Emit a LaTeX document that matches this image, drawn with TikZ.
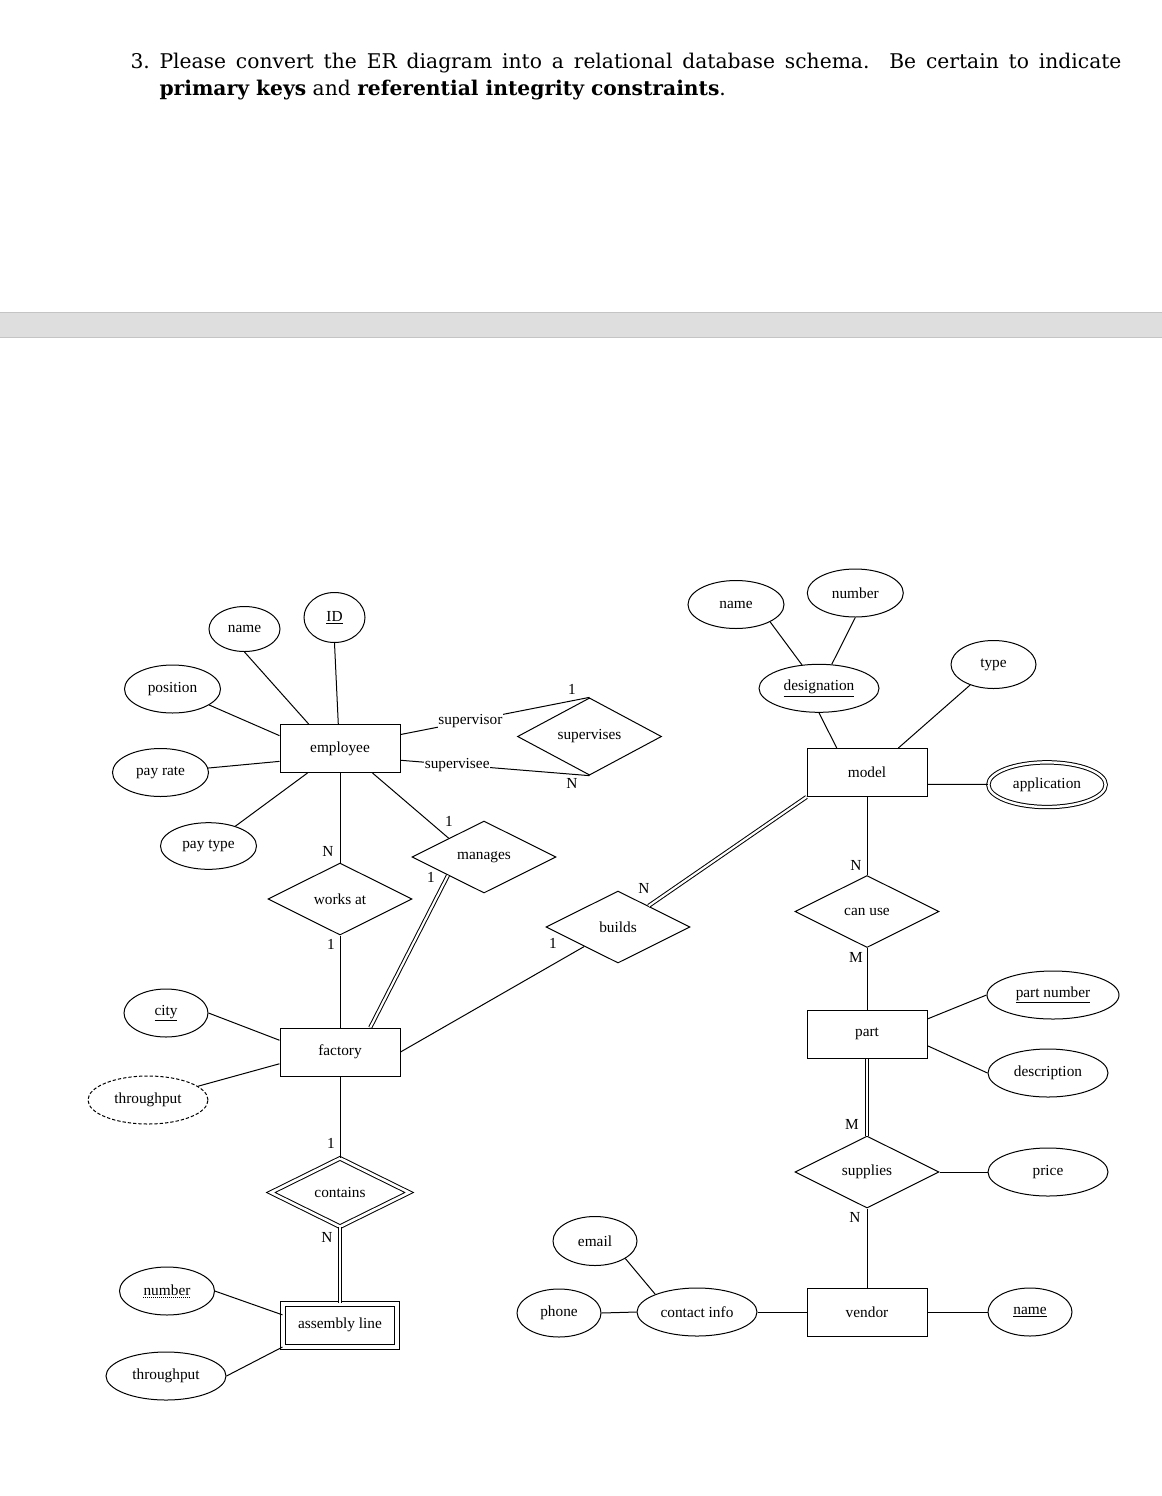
\documentclass[tikz,border=0pt]{standalone}
\usepackage{fontspec}
\setmainfont{Liberation Serif}
\newfontfamily\headfont{DejaVu Serif}
\usetikzlibrary{shapes.geometric}

\definecolor{barfill}{RGB}{222,222,222}
\definecolor{barline}{RGB}{196,196,196}

% dotted underline for a partial key
\newcommand{\dotkey}[1]{\tikz[baseline=(dk.base)]{\node (dk) [shape=rectangle, draw=none, inner sep=0pt, minimum width=0pt, minimum height=0pt] {#1};
  \draw [line width=0.5pt, dash pattern=on 0.6pt off 0.9pt] ([yshift=-1.6pt]dk.base west) -- ([yshift=-1.6pt]dk.base east);}}

\tikzset{every picture/.style={line width=0.75pt}}
\tikzset{
  er/.style={draw, inner sep=0pt, font=\fontsize{11.5}{13}\selectfont},
  entity/.style={er, rectangle, minimum width=90pt, minimum height=36pt},
  weakentity/.style={er, rectangle, minimum width=85.5pt, minimum height=32.25pt, double, double distance=3pt},
  relship/.style={er, diamond, minimum width=108pt, minimum height=54pt},
  weakrel/.style={er, diamond, minimum width=104pt, minimum height=51.5pt, double, double distance=2pt},
  attr/.style={er, ellipse, minimum width=72pt, minimum height=36pt},
  multiattr/.style={attr, double, double distance=1.8pt},
  derivattr/.style={attr, dash pattern=on 2.5pt off 1.5pt},
  role/.style={fill=white, inner sep=0.5pt, font=\fontsize{11.5}{13}\selectfont},
  card/.style={inner sep=0pt, font=\fontsize{11.5}{13}\selectfont},
  total/.style={double, double distance=1.6pt},
  headtxt/.style={anchor=base west, inner sep=0pt, font=\headfont\fontsize{15.2}{18}\selectfont}
}

\begin{document}
\begin{tikzpicture}[x=0.75pt,y=0.75pt,yscale=-1]
\useasboundingbox (0,0) rectangle (1161,1496);

% Text Node
\node (qnum) [headtxt] at (130,68) {3.};
% Text Node
\node (qline1) [headtxt] at (159,68) {\hbox to 721.5pt{Please convert the ER diagram into a relational database schema.\ \ Be certain to indicate}};
% Text Node
\node (qline2) [headtxt] at (159,95) {\textbf{primary keys} and \textbf{referential integrity constraints}.};

%Shape: Rectangle [grey bar]
\draw [color=barline, fill=barfill] (-2,312.5) rectangle (1163,337.5);

%Entities
\node (employee) [entity] at (340,748.5) {employee};
\node (factory) [entity] at (340,1052) {factory};
\node (assembly) [weakentity] at (340,1325) {assembly line};
\node (model) [entity] at (867,772.5) {model};
\node (part) [entity] at (867,1034) {part};
\node (vendor) [entity] at (867,1312) {vendor};

%Relationships
\node (supervises) [relship] at (589.5,736.5) {supervises};
\node (manages) [relship] at (484,857) {manages};
\node (worksat) [relship] at (340,899) {works at};
\node (builds) [relship] at (618,927) {builds};
\node (contains) [weakrel] at (340,1192.5) {contains};
\node (canuse) [relship] at (867,911.5) {can use};
\node (supplies) [relship] at (867,1172) {supplies};

%Attributes of employee
\node (empname) [attr, minimum width=53.25pt, minimum height=33.75pt] at (244.5,629) {name};
\node (empid) [attr, minimum width=45.75pt, minimum height=37.5pt] at (334.5,617.5) {\underline{ID}};
\node (position) [attr] at (172.5,689) {position};
\node (payrate) [attr] at (160.5,772.5) {pay rate};
\node (paytype) [attr, minimum height=35pt] at (208.5,846) {pay type};

%Attributes of factory and assembly line
\node (city) [attr, minimum width=63pt] at (166,1013) {\underline{city}};
\node (factput) [derivattr, minimum width=90pt] at (148,1100) {throughput};
\node (linenum) [attr, minimum width=71.25pt] at (167,1291) {\dotkey{number}};
\node (lineput) [attr, minimum width=90pt] at (166,1376) {throughput};

%Attributes of model
\node (modname) [attr] at (736,604.5) {name};
\node (modnum) [attr] at (855.3,593) {number};
\node (designation) [attr, minimum width=90pt] at (819,688.3) {\underline{designation}};
\node (modtype) [attr, minimum width=63.75pt] at (993.5,664.5) {type};
\node (application) [multiattr, minimum width=88pt, minimum height=33.5pt] at (1047,784.7) {application};

%Attributes of part, supplies and vendor
\node (partnum) [attr, minimum width=99pt] at (1053,995) {\underline{part number}};
\node (descr) [attr, minimum width=90pt] at (1048,1073) {description};
\node (price) [attr, minimum width=90pt] at (1048,1172) {price};
\node (vendname) [attr, minimum width=63pt] at (1030,1312) {\underline{name}};
\node (contact) [attr, minimum width=90pt] at (697,1312) {contact info};
\node (phone) [attr, minimum width=63pt] at (559,1313) {phone};
\node (email) [attr, minimum width=63pt, minimum height=36.75pt] at (595,1241) {email};

%Straight Lines: employee
\draw (empname.south) -- (employee.142);
\draw (empid.south) -- (employee.94);
\draw (position) -- (employee.168);
\draw (payrate) -- (employee.192);
\draw (paytype) -- (employee.217);
\draw (employee.13) -- node (rsup) [role, pos=0.37] {supervisor} (supervises.north);
\draw (employee.-11) -- node (rsub) [role, pos=0.3] {supervisee} (supervises.south);
\draw (employee.-37) -- (manages.152);
\draw (employee.south) -- (worksat.north);

%Straight Lines: factory
\draw (worksat.south) -- (factory.north);
\draw [total] (factory.39) -- (manages.207);
\draw (factory.east) -- (builds.210);
\draw (city.east) -- (factory.169);
\draw (factput) -- (factory.191);
\draw (factory.south) -- (contains.north);
\draw [total] (contains.south) -- (assembly.north);
\draw (linenum.east) -- (assembly.170);
\draw (lineput.east) -- (assembly.south west);

%Straight Lines: model
\draw [total] (builds) -- (model.south west);
\draw (modname.-27) -- (designation.126);
\draw (modnum.south) -- (designation.62);
\draw (designation.south) -- (model.141);
\draw (modtype) -- (model.38);
\draw (model.-11) -- (application);
\draw (model.south) -- (canuse.north);
\draw (canuse.south) -- (part.north);

%Straight Lines: part and vendor
\draw (part.14) -- (partnum.west);
\draw (part.-11) -- (descr.west);
\draw [total] (part.south) -- (supplies.north);
\draw (supplies.east) -- (price.west);
\draw (supplies.south) -- (vendor.north);
\draw (vendor.east) -- (vendname.west);
\draw (contact.east) -- (vendor.west);
\draw (phone.east) -- (contact.west);
\draw (email.-30) -- (contact.157);

% Text Node: cardinalities
\node (csup1) [card] at (572,689) {1};
\node (csupn) [card] at (572,783) {N};
\node (cwkn) [card] at (328,851) {N};
\node (cwk1) [card] at (331,944) {1};
\node (cmg1) [card] at (449,821) {1};
\node (cmg2) [card] at (431,877) {1};
\node (cbd1) [card] at (553,943) {1};
\node (cbdn) [card] at (644,888) {N};
\node (ccun) [card] at (856,865) {N};
\node (ccum) [card] at (856,957) {M};
\node (cspm) [card] at (852,1124) {M};
\node (cspn) [card] at (855,1217) {N};
\node (cct1) [card] at (331,1143) {1};
\node (cctn) [card] at (327,1237) {N};

\end{tikzpicture}
\end{document}
